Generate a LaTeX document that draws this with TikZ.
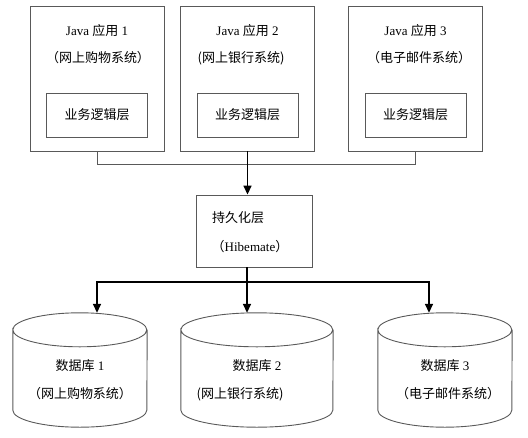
\documentclass[tikz,border=0pt]{standalone}
\usepackage{fontspec}
\setmainfont{Liberation Serif}
\newfontfamily\cjk{Noto Sans CJK SC}
\usetikzlibrary{arrows.meta}

\begin{document}
\begin{tikzpicture}[x=1pt, y=-1pt, every node/.style={font=\fontsize{13}{15}\selectfont},
  appbox/.style={draw=black!65, line width=0.9pt, minimum width=134pt, minimum height=145pt},
  logicbox/.style={draw=black!65, line width=0.9pt, minimum width=101pt, minimum height=44pt},
  dbline/.style={draw=black!65, line width=0.9pt},
  arr/.style={line width=1.6pt, -{Triangle[length=9pt,width=8pt]}}]

\useasboundingbox (0,0) rectangle (528,437);

% Aplicacoes Java com a camada de negocio
\foreach \i/\x/\sx/\sub in {1/97/98/{（网上购物系统）}, 2/247.5/241/{(网上银行系统)}, 3/415.5/419/{（电子邮件系统）}} {
  \node[appbox] (app\i) at (\x,78.5) {};
  \node (title\i) at (\x,31) {Java {\cjk 应用} \i};
  \node (sub\i) at (\sx,58) {\cjk\sub};
  \node[logicbox] (logic\i) at (\x,115) {\cjk 业务逻辑层};
}

% Camada de persistencia
\node[appbox, minimum width=116pt, minimum height=72pt] (persist) at (254,231) {};
\node (ptitle) at (238,218) {\cjk 持久化层};
\node (pimpl) at (250,247) {{\cjk （}Hibemate{\cjk ）}};

% Bancos de dados
\foreach \i/\x/\r/\sx/\sub in {1/80/67/80/{（网上购物系统）}, 2/257/76/240/{(网上银行系统)}, 3/445/67/448/{（电子邮件系统）}} {
  \node[minimum width={\r*2pt}, minimum height=114pt, inner sep=0pt] (db\i) at (\x,370) {};
  \draw[dbline] ([yshift=-17pt]db\i.north west)
    arc[start angle=180, end angle=-180, x radius=\r pt, y radius=17pt]
    -- ([yshift=17pt]db\i.south west)
    arc[start angle=180, end angle=360, x radius=\r pt, y radius=17pt]
    -- ([yshift=-17pt]db\i.north east);
  \node (dbname\i) at (\x,366) {{\cjk 数据库} \i};
  \node (dbsub\i) at (\sx,394) {\cjk\sub};
}

% Ligacoes
\draw[dbline] (app1.south) -- ++(0,13) -| (app3.south);
\draw[arr] (app2.south) -- (app2.south |- persist.north);

\coordinate (split) at (247,282);
\draw[arr] (split |- persist.south) -- ([xshift=-10pt]db2.north);
\draw[arr] (split) -| ([xshift=17pt]db1.north);
\draw[arr] (split) -| ([xshift=-16pt]db3.north);

\end{tikzpicture}
\end{document}
